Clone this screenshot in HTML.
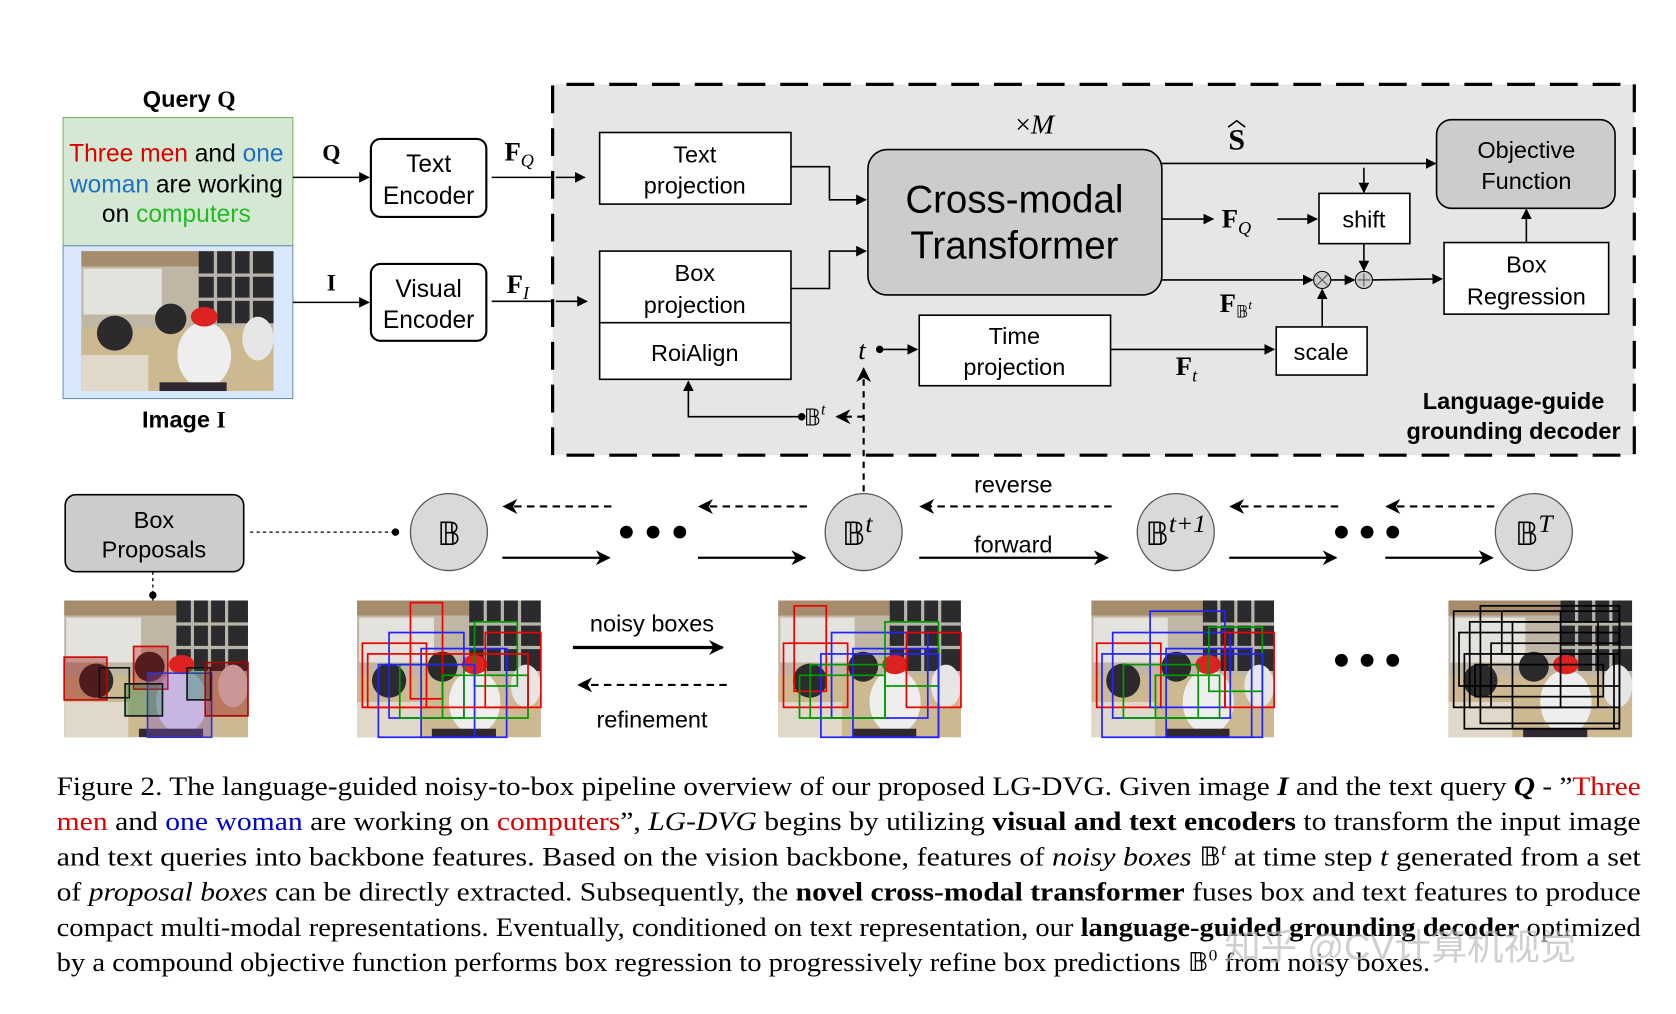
<!DOCTYPE html>
<html><head><meta charset="utf-8"><style>html,body{margin:0;padding:0;background:#fff}svg{display:block}</style></head>
<body>
<svg width="1676" height="1014" viewBox="0 0 1568 949" preserveAspectRatio="none" xmlns="http://www.w3.org/2000/svg" font-family="Liberation Sans, Arial, sans-serif">
<defs>
<marker id="ar" viewBox="0 0 10 10" refX="9" refY="5" markerWidth="10" markerHeight="10" markerUnits="userSpaceOnUse" orient="auto"><path d="M0,0 L10,5 L0,10 z" fill="#000"/></marker>
<marker id="arb" viewBox="0 0 10 10" refX="9" refY="5" markerWidth="14" markerHeight="14" markerUnits="userSpaceOnUse" orient="auto"><path d="M0,0 L10,5 L0,10 L3,5 z" fill="#000"/></marker>
<symbol id="ph" viewBox="0 0 172 128" preserveAspectRatio="none">
<rect width="172" height="128" fill="#bfb6a6"/>
<rect x="0" y="0" width="110" height="14" fill="#a58c6c"/>
<rect x="2" y="16" width="70" height="42" fill="#e4e2dc"/>
<rect x="105" y="0" width="67" height="66" fill="#2b2b2e"/>
<path d="M105,22H172M105,44H172M120,0V66M136,0V66M152,0V66" stroke="#b8b4aa" stroke-width="3"/>
<rect x="0" y="70" width="172" height="58" fill="#cdb991"/>
<rect x="0" y="95" width="60" height="33" fill="#e0d8c8"/>
<ellipse cx="30" cy="75" rx="16" ry="16" fill="#2c2a2c"/>
<ellipse cx="80" cy="62" rx="14" ry="14" fill="#2a2a2a"/>
<ellipse cx="110" cy="95" rx="24" ry="30" fill="#eeeeee"/>
<ellipse cx="110" cy="60" rx="12" ry="9" fill="#d22"/>
<ellipse cx="158" cy="80" rx="14" ry="20" fill="#e6e6e6"/>
<rect x="70" y="120" width="60" height="8" fill="#302830"/>
</symbol>
</defs>

<!-- Query -->
<text x="177" y="100" font-size="22" font-weight="bold" text-anchor="middle">Query <tspan font-family="Liberation Serif">Q</tspan></text>
<rect x="59" y="110" width="215" height="120" fill="#d5e8d4" stroke="#82b366" stroke-width="1"/>
<text font-size="23" text-anchor="middle"><tspan x="165" y="151"><tspan fill="#d00">Three men</tspan> and <tspan fill="#1f6fc5">one</tspan></tspan><tspan x="165" y="180"><tspan fill="#1f6fc5">woman</tspan> are working</tspan><tspan x="165" y="208">on <tspan fill="#22bb22">computers</tspan></tspan></text>
<rect x="59" y="230" width="215" height="143" fill="#dae8fc" stroke="#6c8ebf" stroke-width="1"/>
<use href="#ph" x="76" y="235" width="180" height="131"/>
<text x="172" y="400" font-size="22" font-weight="bold" text-anchor="middle">Image <tspan font-family="Liberation Serif">I</tspan></text>

<text x="310" y="150" font-size="22" font-weight="bold" font-family="Liberation Serif" text-anchor="middle">Q</text>
<line x1="274" y1="166" x2="345" y2="166" stroke="#000" stroke-width="1.5" marker-end="url(#ar)"/>
<text x="310" y="272" font-size="22" font-weight="bold" font-family="Liberation Serif" text-anchor="middle">I</text>
<line x1="274" y1="283" x2="345" y2="283" stroke="#000" stroke-width="1.5" marker-end="url(#ar)"/>

<rect x="347" y="130" width="108" height="73" rx="9" fill="#fff" stroke="#000" stroke-width="2"/>
<text font-size="23" text-anchor="middle"><tspan x="401" y="161">Text</tspan><tspan x="401" y="191">Encoder</tspan></text>
<rect x="347" y="247" width="108" height="72" rx="9" fill="#fff" stroke="#000" stroke-width="2"/>
<text font-size="23" text-anchor="middle"><tspan x="401" y="278">Visual</tspan><tspan x="401" y="307">Encoder</tspan></text>

<text x="472" y="150" font-size="25" font-weight="bold" font-family="Liberation Serif">F<tspan font-size="17" font-style="italic" font-weight="normal" dy="6">Q</tspan></text>
<line x1="460" y1="166" x2="547" y2="166" stroke="#000" stroke-width="1.5" marker-end="url(#ar)"/>
<text x="474" y="274" font-size="25" font-weight="bold" font-family="Liberation Serif">F<tspan font-size="17" font-style="italic" font-weight="normal" dy="6">I</tspan></text>
<line x1="460" y1="282" x2="549" y2="282" stroke="#000" stroke-width="1.5" marker-end="url(#ar)"/>

<!-- decoder region -->
<rect x="517" y="79" width="1012" height="347" fill="#e6e6e6"/>
<path d="M517,426V79H1529M1529,79V426H517" fill="none" stroke="#000" stroke-width="3" stroke-dasharray="26,14"/>
<line x1="520" y1="166" x2="547" y2="166" stroke="#000" stroke-width="1.5" marker-end="url(#ar)"/>
<line x1="520" y1="282" x2="549" y2="282" stroke="#000" stroke-width="1.5" marker-end="url(#ar)"/>

<rect x="561" y="124" width="179" height="67" fill="#fff" stroke="#000" stroke-width="1.5"/>
<text font-size="22" text-anchor="middle"><tspan x="650" y="152">Text</tspan><tspan x="650" y="181">projection</tspan></text>
<rect x="561" y="235" width="179" height="120" fill="#fff" stroke="#000" stroke-width="1.5"/>
<line x1="561" y1="302" x2="740" y2="302" stroke="#000" stroke-width="1.5"/>
<text font-size="22" text-anchor="middle"><tspan x="650" y="263">Box</tspan><tspan x="650" y="293">projection</tspan><tspan x="650" y="338">RoiAlign</tspan></text>

<path d="M740,156H776V187H810" fill="none" stroke="#000" stroke-width="1.5" marker-end="url(#ar)"/>
<path d="M740,270H776V235H810" fill="none" stroke="#000" stroke-width="1.5" marker-end="url(#ar)"/>

<text x="968" y="125" font-size="26" font-family="Liberation Serif" text-anchor="middle">×<tspan font-style="italic">M</tspan></text>
<rect x="812" y="140" width="275" height="136" rx="18" fill="#cccccc" stroke="#000" stroke-width="1.5"/>
<text font-size="36" text-anchor="middle"><tspan x="949" y="199">Cross-modal</tspan><tspan x="949" y="242">Transformer</tspan></text>

<text x="1157" y="140" font-size="28" font-weight="bold" font-family="Liberation Serif" text-anchor="middle">S</text>
<path d="M1149,119 L1157,113 L1165,119" fill="none" stroke="#000" stroke-width="1.5"/>
<line x1="1087" y1="153" x2="1343" y2="153" stroke="#000" stroke-width="1.5" marker-end="url(#ar)"/>
<line x1="1087" y1="205" x2="1135" y2="205" stroke="#000" stroke-width="1.5" marker-end="url(#ar)"/>
<text x="1143" y="213" font-size="25" font-weight="bold" font-family="Liberation Serif">F<tspan font-size="17" font-style="italic" font-weight="normal" dy="6">Q</tspan></text>
<line x1="1195" y1="205" x2="1232" y2="205" stroke="#000" stroke-width="1.5" marker-end="url(#ar)"/>
<rect x="1234" y="181" width="85" height="47" fill="#fff" stroke="#000" stroke-width="1.5"/>
<text x="1276" y="213" font-size="22" text-anchor="middle">shift</text>
<line x1="1276" y1="157" x2="1276" y2="180" stroke="#000" stroke-width="1.5" marker-end="url(#ar)"/>

<rect x="1344" y="112" width="167" height="83" rx="14" fill="#cccccc" stroke="#000" stroke-width="1.5"/>
<text font-size="22" text-anchor="middle"><tspan x="1428" y="148">Objective</tspan><tspan x="1428" y="177">Function</tspan></text>
<rect x="1351" y="227" width="154" height="67" fill="#fff" stroke="#000" stroke-width="1.5"/>
<text font-size="22" text-anchor="middle"><tspan x="1428" y="255">Box</tspan><tspan x="1428" y="285">Regression</tspan></text>
<line x1="1428" y1="227" x2="1428" y2="196" stroke="#000" stroke-width="1.5" marker-end="url(#ar)"/>

<line x1="1087" y1="262" x2="1228" y2="262" stroke="#000" stroke-width="1.5" marker-end="url(#ar)"/>
<circle cx="1237" cy="262" r="8" fill="#ccc" stroke="#000" stroke-width="1"/>
<path d="M1232,257L1242,267M1242,257L1232,267" stroke="#555" stroke-width="1"/>
<line x1="1245" y1="262" x2="1267" y2="262" stroke="#000" stroke-width="1.5" marker-end="url(#ar)"/>
<circle cx="1276" cy="262" r="8" fill="#ccc" stroke="#000" stroke-width="1"/>
<path d="M1270,262H1282M1276,256V268" stroke="#555" stroke-width="1"/>
<line x1="1276" y1="228" x2="1276" y2="253" stroke="#000" stroke-width="1.5" marker-end="url(#ar)"/>
<line x1="1284" y1="262" x2="1349" y2="261" stroke="#000" stroke-width="1.5" marker-end="url(#ar)"/>
<text x="1141" y="292" font-size="25" font-weight="bold" font-family="Liberation Serif">F<tspan font-size="16" font-weight="normal" font-family="DejaVu Sans" dy="5">𝔹</tspan><tspan font-size="12" font-style="italic" font-weight="normal" dy="-8">t</tspan></text>
<rect x="1194" y="306" width="85" height="45" fill="#fff" stroke="#000" stroke-width="1.5"/>
<text x="1236" y="337" font-size="22" text-anchor="middle">scale</text>
<line x1="1237" y1="306" x2="1237" y2="271" stroke="#000" stroke-width="1.5" marker-end="url(#ar)"/>

<text x="803" y="336" font-size="25" font-style="italic" font-family="Liberation Serif">t</text>
<circle cx="823" cy="327" r="3.5" fill="#000"/>
<line x1="823" y1="327" x2="858" y2="327" stroke="#000" stroke-width="1.5" marker-end="url(#ar)"/>
<rect x="860" y="295" width="179" height="66" fill="#fff" stroke="#000" stroke-width="1.5"/>
<text font-size="22" text-anchor="middle"><tspan x="949" y="322">Time</tspan><tspan x="949" y="351">projection</tspan></text>
<line x1="1039" y1="327" x2="1192" y2="327" stroke="#000" stroke-width="1.5" marker-end="url(#ar)"/>
<text x="1100" y="351" font-size="25" font-weight="bold" font-family="Liberation Serif">F<tspan font-size="17" font-style="italic" font-weight="normal" dy="6">t</tspan></text>

<path d="M750,390H644V357" fill="none" stroke="#000" stroke-width="1.5" marker-end="url(#ar)"/>
<circle cx="750" cy="390" r="3.5" fill="#000"/>
<text x="752" y="398" font-size="22" font-family="DejaVu Sans">𝔹<tspan font-size="15" font-style="italic" font-family="Liberation Serif" dy="-10">t</tspan></text>
<path d="M808,460V345" fill="none" stroke="#000" stroke-width="2" stroke-dasharray="6,5" marker-end="url(#arb)"/>
<path d="M808,390H783" fill="none" stroke="#000" stroke-width="2" stroke-dasharray="6,5" marker-end="url(#arb)"/>

<text font-size="22" font-weight="bold" text-anchor="middle"><tspan x="1416" y="383">Language-guide</tspan><tspan x="1416" y="411">grounding decoder</tspan></text>

<!-- bottom chain -->
<rect x="61" y="463" width="167" height="72" rx="10" fill="#cccccc" stroke="#000" stroke-width="1.5"/>
<text font-size="22" text-anchor="middle"><tspan x="144" y="494">Box</tspan><tspan x="144" y="522">Proposals</tspan></text>
<line x1="234" y1="498" x2="370" y2="498" stroke="#000" stroke-width="1.2" stroke-dasharray="3,3"/>
<circle cx="370" cy="498" r="3.5" fill="#000"/>
<line x1="143" y1="535" x2="143" y2="562" stroke="#000" stroke-width="1.2" stroke-dasharray="3,3"/>
<circle cx="143" cy="557" r="3.5" fill="#000"/>

<g fill="#d9d9d9" stroke="#555" stroke-width="1.2">
<circle cx="420" cy="498" r="36"/><circle cx="808" cy="498" r="36"/><circle cx="1100" cy="498" r="36"/><circle cx="1435" cy="498" r="36"/>
</g>
<g font-size="30" font-family="DejaVu Sans" text-anchor="middle">
<text x="420" y="510">𝔹</text>
<text x="802" y="510">𝔹<tspan font-size="24" font-style="italic" font-family="Liberation Serif" dy="-12">t</tspan></text>
<text x="1100" y="510">𝔹<tspan font-size="24" font-style="italic" font-family="Liberation Serif" dy="-12">t+1</tspan></text>
<text x="1435" y="510">𝔹<tspan font-size="24" font-style="italic" font-family="Liberation Serif" dy="-12">T</tspan></text>
</g>
<g stroke="#000" stroke-width="2" fill="none">
<path d="M572,474H472M755,474H655M1040,474H862M1252,474H1152M1398,474H1298" stroke-dasharray="7,5"/>
</g>
<g fill="#000">
<path d="M470,474l14,-7l-4,7l4,7z"/><path d="M653,474l14,-7l-4,7l4,7z"/><path d="M860,474l14,-7l-4,7l4,7z"/><path d="M1150,474l14,-7l-4,7l4,7z"/><path d="M1296,474l14,-7l-4,7l4,7z"/>
</g>
<g stroke="#000" stroke-width="2.2">
<line x1="470" y1="522" x2="570" y2="522" marker-end="url(#arb)"/>
<line x1="653" y1="522" x2="753" y2="522" marker-end="url(#arb)"/>
<line x1="860" y1="522" x2="1036" y2="522" marker-end="url(#arb)"/>
<line x1="1150" y1="522" x2="1250" y2="522" marker-end="url(#arb)"/>
<line x1="1296" y1="522" x2="1396" y2="522" marker-end="url(#arb)"/>
</g>
<g fill="#000">
<circle cx="586" cy="498" r="6"/><circle cx="611" cy="498" r="6"/><circle cx="636" cy="498" r="6"/>
<circle cx="1255" cy="498" r="6"/><circle cx="1279" cy="498" r="6"/><circle cx="1303" cy="498" r="6"/>
<circle cx="1255" cy="618" r="6"/><circle cx="1279" cy="618" r="6"/><circle cx="1303" cy="618" r="6"/>
</g>
<text x="948" y="461" font-size="22" text-anchor="middle">reverse</text>
<text x="948" y="517" font-size="22" text-anchor="middle">forward</text>

<!-- photos -->
<use href="#ph" x="60" y="562" width="172" height="128"/>
<g fill="none" stroke-width="1.5">
<rect x="60" y="615" width="40" height="40" stroke="#c00" fill="rgba(150,0,0,0.35)"/>
<rect x="93" y="625" width="28" height="28" stroke="#111"/>
<rect x="125" y="605" width="32" height="40" stroke="#d00" fill="rgba(180,0,0,0.3)"/>
<rect x="138" y="630" width="60" height="60" stroke="#33c" fill="rgba(120,80,200,0.35)"/>
<rect x="117" y="640" width="35" height="30" stroke="#111" fill="rgba(0,120,60,0.3)"/>
<rect x="175" y="625" width="22" height="30" stroke="#111" fill="rgba(0,120,60,0.3)"/>
<rect x="192" y="620" width="40" height="50" stroke="#a00" fill="rgba(150,0,0,0.35)"/>
</g>
<use href="#ph" x="334" y="562" width="172" height="128"/>
<use href="#ph" x="728" y="562" width="171" height="128"/>
<use href="#ph" x="1021" y="562" width="171" height="128"/>
<use href="#ph" x="1355" y="562" width="172" height="128"/>
<g fill="none" stroke-width="1.6">
<g transform="translate(334,562)">
<rect x="5" y="40" width="60" height="60" stroke="#e00"/><rect x="50" y="2" width="30" height="90" stroke="#e00"/><rect x="30" y="30" width="70" height="80" stroke="#22f"/><rect x="60" y="45" width="80" height="83" stroke="#22f"/><rect x="40" y="60" width="60" height="50" stroke="#090"/><rect x="110" y="20" width="40" height="60" stroke="#090"/><rect x="120" y="30" width="52" height="70" stroke="#e00"/><rect x="20" y="60" width="90" height="68" stroke="#22f"/><rect x="80" y="70" width="80" height="40" stroke="#090"/><rect x="10" y="50" width="150" height="50" stroke="#e00"/>
</g>
<g transform="translate(728,562)">
<rect x="5" y="40" width="60" height="60" stroke="#e00"/><rect x="15" y="5" width="30" height="80" stroke="#e00"/><rect x="50" y="30" width="90" height="80" stroke="#22f"/><rect x="70" y="45" width="80" height="83" stroke="#22f"/><rect x="30" y="60" width="70" height="50" stroke="#090"/><rect x="100" y="20" width="50" height="60" stroke="#090"/><rect x="120" y="30" width="51" height="70" stroke="#e00"/><rect x="40" y="50" width="110" height="78" stroke="#22f"/><rect x="20" y="70" width="80" height="40" stroke="#090"/>
</g>
<g transform="translate(1021,562)">
<rect x="5" y="40" width="60" height="60" stroke="#e00"/><rect x="55" y="10" width="70" height="90" stroke="#22f"/><rect x="20" y="30" width="110" height="80" stroke="#22f"/><rect x="70" y="45" width="80" height="83" stroke="#22f"/><rect x="30" y="60" width="70" height="50" stroke="#090"/><rect x="110" y="25" width="50" height="60" stroke="#090"/><rect x="125" y="30" width="46" height="70" stroke="#e00"/><rect x="10" y="50" width="150" height="78" stroke="#22f"/><rect x="60" y="70" width="60" height="40" stroke="#090"/>
</g>
<g transform="translate(1355,562)" stroke="#000">
<rect x="5" y="10" width="100" height="90"/><rect x="20" y="20" width="120" height="80"/><rect x="30" y="5" width="130" height="110"/><rect x="40" y="40" width="120" height="60"/><rect x="10" y="30" width="150" height="50"/><rect x="60" y="20" width="100" height="100"/><rect x="15" y="50" width="140" height="70"/><rect x="50" y="10" width="110" height="40"/><rect x="25" y="60" width="120" height="30"/>
</g>
</g>
<text x="610" y="591" font-size="22" text-anchor="middle">noisy boxes</text>
<line x1="536" y1="606" x2="676" y2="606" stroke="#000" stroke-width="3" marker-end="url(#arb)"/>
<line x1="680" y1="641" x2="552" y2="641" stroke="#000" stroke-width="2" stroke-dasharray="7,5"/>
<path d="M540,641l14,-7l-4,7l4,7z" fill="#000"/>
<text x="610" y="681" font-size="22" text-anchor="middle">refinement</text>

<!-- caption -->
<g font-family="Liberation Serif, serif" font-size="24.5" fill="#000">
<text x="53" y="744" textLength="1482" lengthAdjust="spacingAndGlyphs">Figure 2.  The language-guided noisy-to-box pipeline overview of our proposed LG-DVG. Given image <tspan font-style="italic" font-weight="bold">I</tspan> and the text query <tspan font-style="italic" font-weight="bold">Q</tspan> - ”<tspan fill="#d00">Three</tspan></text>
<text x="53" y="777" textLength="1482" lengthAdjust="spacingAndGlyphs"><tspan fill="#d00">men</tspan> and <tspan fill="#00c">one woman</tspan> are working on <tspan fill="#d00">computers</tspan>”, <tspan font-style="italic">LG-DVG</tspan> begins by utilizing <tspan font-weight="bold">visual and text encoders</tspan> to transform the input image</text>
<text x="53" y="810" textLength="1482" lengthAdjust="spacingAndGlyphs">and text queries into backbone features.  Based on the vision backbone, features of <tspan font-style="italic">noisy boxes</tspan> 𝔹<tspan font-size="15" dy="-10" font-style="italic">t</tspan><tspan dy="10"> at time step </tspan><tspan font-style="italic">t</tspan> generated from a set</text>
<text x="53" y="843" textLength="1482" lengthAdjust="spacingAndGlyphs">of <tspan font-style="italic">proposal boxes</tspan> can be directly extracted.  Subsequently, the <tspan font-weight="bold">novel cross-modal transformer</tspan> fuses box and text features to produce</text>
<text x="53" y="876" textLength="1482" lengthAdjust="spacingAndGlyphs">compact multi-modal representations. Eventually, conditioned on text representation, our <tspan font-weight="bold">language-guided grounding decoder</tspan> optimized</text>
<text x="53" y="909" textLength="1285" lengthAdjust="spacingAndGlyphs">by a compound objective function performs box regression to progressively refine box predictions 𝔹<tspan font-size="15" dy="-10">0</tspan><tspan dy="10"> from noisy boxes.</tspan></text>
</g>
<text x="1310" y="898" font-size="34" fill="#bbb" fill-opacity="0.7" text-anchor="middle" font-family="Liberation Sans, Noto Sans CJK SC, sans-serif">知乎 @CV计算机视觉</text>
</svg>
</body></html>
